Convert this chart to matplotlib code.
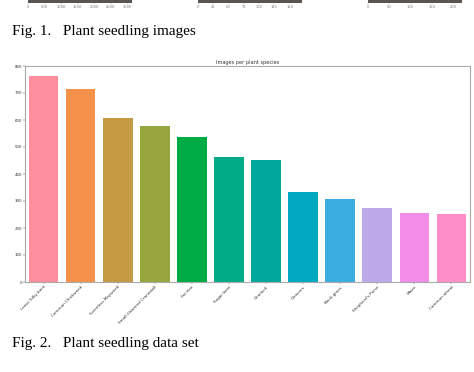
import matplotlib
matplotlib.use('Agg')
import matplotlib.pyplot as plt
import seaborn as sns

# ------------------------------
# Data
# ------------------------------
species = ['Loose Silky-bent', 'Common Chickweed', 'Scentless Mayweed',
           'Small-flowered Cranesbill', 'Fat Hen', 'Sugar beet', 'Charlock',
           'Cleavers', 'Black-grass', "Shepherd's Purse", 'Maize', 'Common wheat']
counts = [762, 713, 607, 576, 538, 463, 452, 335, 309, 274, 257, 253]

# remnants of Fig. 1 (cropped image strips at the top)
strip_xlims = [(0, 3150), (0, 170), (0, 221)]
strip_ticks = [[0, 500, 1000, 1500, 2000, 2500, 3000],
               [0, 25, 50, 75, 100, 125, 150],
               [0, 50, 100, 150, 200]]

# bar colours (husl-like, as printed)
bar_colors = ['#fd8e9e', '#f4924c', '#c49a42', '#98a73d', '#00ad45', '#00ab88',
              '#00a89c', '#00a8c0', '#3aaee0', '#bba9ea', '#f38ce8', '#fd8ec8']

W, H = 474, 372
fig = plt.figure(figsize=(W / 100, H / 100), dpi=100)

def px_axes(x0, y0, x1, y1):
    # pixel box (top-left origin) -> figure fraction
    return fig.add_axes([x0 / W, 1 - y1 / H, (x1 - x0) / W, (y1 - y0) / H])

# ------------------------------
# Fig. 1 strip
# ------------------------------
strip_px = [(28, 132), (198, 302), (368, 462)]
for (x0, x1), xl, tk in zip(strip_px, strip_xlims, strip_ticks):
    a = px_axes(x0, -20, x1, 3)
    a.set_facecolor('#5a5550')
    a.set_xlim(*xl)
    a.set_xticks(tk)
    a.set_xticklabels([str(t) for t in tk], fontsize=2.6, color='#555555')
    a.tick_params(axis='x', length=1, width=0.3, pad=0.8, colors='#777777')
    a.set_yticks([])
    for s in a.spines.values():
        s.set_visible(False)

fig.text(12 / W, 1 - 31 / H, 'Fig. 1.   Plant seedling images',
         family='Liberation Serif', fontsize=11, va='center', ha='left')

# ------------------------------
# Main bar chart
# ------------------------------
ax = px_axes(25, 66, 470, 282)
sns.barplot(x=species, y=counts, hue=species, palette=bar_colors, legend=False,
            saturation=1, ax=ax, width=0.8)
ax.set_ylim(0, 800)
ax.set_yticks(range(0, 801, 100))
ax.tick_params(axis='y', labelsize=2.8, length=1.2, width=0.3, pad=1, colors='#333333')
ax.tick_params(axis='x', labelsize=3, length=1.2, width=0.3, pad=1, colors='#333333')
ax.set_xticks(range(len(species)))
ax.set_xticklabels(species, rotation=45, ha='right', rotation_mode='anchor')
ax.set_xlim(-0.5, len(species) - 0.5)
for s in ax.spines.values():
    s.set_color('#aaaaaa')
    s.set_linewidth(0.8)
ax.set_title('Images per plant species', fontsize=3.6, pad=1.5, color='#333333')

fig.text(12 / W, 1 - 343 / H, 'Fig. 2.   Plant seedling data set',
         family='Liberation Serif', fontsize=11, va='center', ha='left')

fig.savefig('out.png', dpi=100)
